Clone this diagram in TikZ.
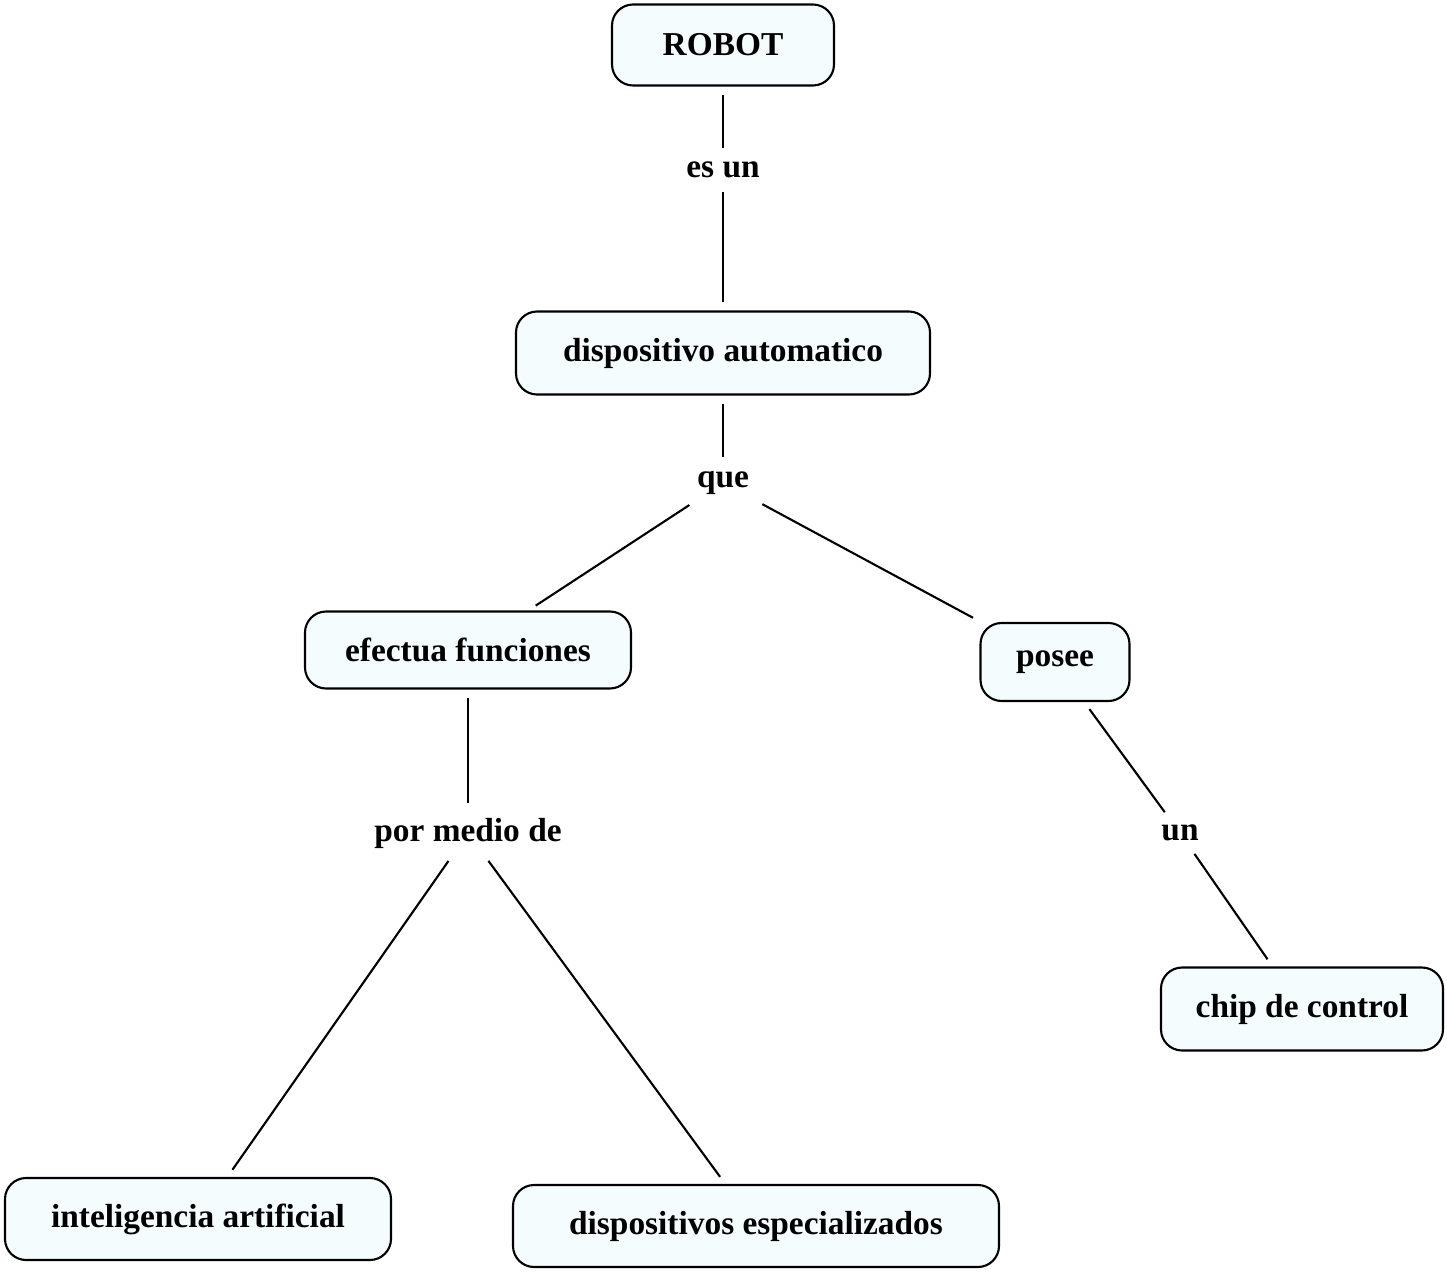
\documentclass[tikz,border=0pt]{standalone}
\usepackage{fontspec}
\setmainfont{Liberation Serif}
\begin{document}
\begin{tikzpicture}[x=0.02cm,y=-0.02cm,
  box/.style={draw,line width=1.2pt,rounded corners=12pt,fill=gray!6!cyan!4,minimum width=#1*0.02cm,inner sep=0pt,font=\fontsize{19}{22}\selectfont\bfseries},
  lab/.style={inner sep=3pt,font=\fontsize{19}{22}\selectfont\bfseries},
  ln/.style={line width=1.2pt,shorten <=5pt,shorten >=5pt}]
\useasboundingbox (0,0) rectangle (1447,1274);
\node[box=222,minimum height=81*0.02cm] (robot) at (723,45) {ROBOT};
\node[lab] (esun) at (723,170) {es un};
\node[box=414,minimum height=83*0.02cm] (disp) at (723,353) {dispositivo automatico};
\node[lab] (que) at (723,483) {que};
\node[box=326,minimum height=77*0.02cm] (efec) at (468,650) {efectua funciones};
\node[box=149,minimum height=78*0.02cm] (posee) at (1055,662) {posee};
\node[lab] (pmd) at (468,833) {por medio de};
\node[lab] (un) at (1180,833) {un};
\node[box=282,minimum height=83*0.02cm] (chip) at (1302,1009) {chip de control};
\node[box=386,minimum height=82*0.02cm] (ia) at (198,1219) {inteligencia artificial};
\node[box=486,minimum height=82*0.02cm] (de) at (756,1226) {dispositivos especializados};
\draw[ln] (robot) -- (esun);
\draw[ln] (esun) -- (disp);
\draw[ln] (disp) -- (que);
\draw[ln] (que) -- (efec);
\draw[ln] (que) -- (posee);
\draw[ln] (efec) -- (pmd);
\draw[ln] (pmd) -- (ia);
\draw[ln] (pmd) -- (de);
\draw[ln] (posee) -- (un);
\draw[ln] (un) -- (chip);
\end{tikzpicture}
\end{document}
